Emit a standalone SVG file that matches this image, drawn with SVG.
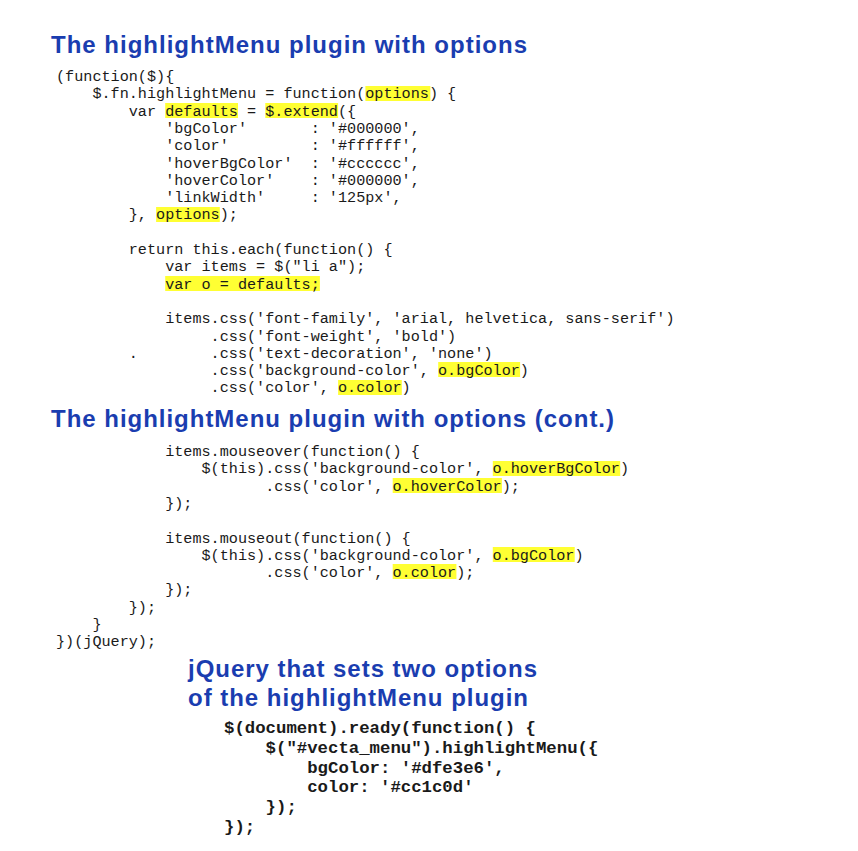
<svg xmlns="http://www.w3.org/2000/svg" width="858" height="851" viewBox="0 0 858 851">
<style>
.t{font-family:"Liberation Sans",Arial,sans-serif;font-weight:bold;font-size:24px;fill:#1a3db0}
.c{font-family:"Liberation Mono","Courier New",monospace;font-size:15.17px;fill:#1a1a1a;white-space:pre}
.b{font-family:"Liberation Mono","Courier New",monospace;font-size:17.33px;font-weight:bold;fill:#1a1a1a;white-space:pre}
.h{fill:#ffff33}
</style>
<rect width="858" height="851" fill="#fff"/>
<g id="titles">
<text class="t" x="51" y="53" textLength="476">The highlightMenu plugin with options</text>
<text class="t" x="51" y="427" textLength="563">The highlightMenu plugin with options (cont.)</text>
<text class="t" x="188" y="677" textLength="349">jQuery that sets two options</text>
<text class="t" x="188" y="706" textLength="340">of the highlightMenu plugin</text>
</g>
<g id="highlights">
<rect class="h" x="365.4" y="86" width="65" height="15"/>
<rect class="h" x="165.2" y="103" width="72.8" height="15"/>
<rect class="h" x="265.3" y="103" width="72.8" height="15"/>
<rect class="h" x="156.1" y="207" width="63.7" height="15"/>
<rect class="h" x="165.2" y="276" width="154.7" height="15"/>
<rect class="h" x="438.2" y="362" width="81.9" height="15"/>
<rect class="h" x="338.1" y="380" width="63.7" height="15"/>
<rect class="h" x="492.8" y="461" width="127.4" height="15"/>
<rect class="h" x="392.7" y="478" width="109.2" height="15"/>
<rect class="h" x="492.8" y="547" width="81.9" height="15"/>
<rect class="h" x="392.7" y="564" width="63.7" height="15"/>
</g>
<g id="code1" class="c">
<text class="c" x="56" y="81">(function($){</text>
<text class="c" x="56" y="98.3">    $.fn.highlightMenu = function(options) {</text>
<text class="c" x="56" y="115.6">        var defaults = $.extend({</text>
<text class="c" x="56" y="132.9">            'bgColor'       : '#000000',</text>
<text class="c" x="56" y="150.2">            'color'         : '#ffffff',</text>
<text class="c" x="56" y="167.5">            'hoverBgColor'  : '#cccccc',</text>
<text class="c" x="56" y="184.8">            'hoverColor'    : '#000000',</text>
<text class="c" x="56" y="202.1">            'linkWidth'     : '125px',</text>
<text class="c" x="56" y="219.4">        }, options);</text>
<text class="c" x="56" y="254">        return this.each(function() {</text>
<text class="c" x="56" y="271.3">            var items = $("li a");</text>
<text class="c" x="56" y="288.6">            var o = defaults;</text>
<text class="c" x="56" y="323.2">            items.css('font-family', 'arial, helvetica, sans-serif')</text>
<text class="c" x="56" y="340.5">                 .css('font-weight', 'bold')</text>
<text class="c" x="56" y="357.8">        .        .css('text-decoration', 'none')</text>
<text class="c" x="56" y="375.1">                 .css('background-color', o.bgColor)</text>
<text class="c" x="56" y="392.4">                 .css('color', o.color)</text>
</g>
<g id="code2" class="c">
<text class="c" x="56" y="456">            items.mouseover(function() {</text>
<text class="c" x="56" y="473.3">                $(this).css('background-color', o.hoverBgColor)</text>
<text class="c" x="56" y="490.6">                       .css('color', o.hoverColor);</text>
<text class="c" x="56" y="507.9">            });</text>
<text class="c" x="56" y="542.5">            items.mouseout(function() {</text>
<text class="c" x="56" y="559.8">                $(this).css('background-color', o.bgColor)</text>
<text class="c" x="56" y="577.1">                       .css('color', o.color);</text>
<text class="c" x="56" y="594.4">            });</text>
<text class="c" x="56" y="611.7">        });</text>
<text class="c" x="56" y="629">    }</text>
<text class="c" x="56" y="646.3">})(jQuery);</text>
</g>
<g id="code3" class="b">
<text class="b" x="224" y="733">$(document).ready(function() {</text>
<text class="b" x="224" y="752.8">    $("#vecta_menu").highlightMenu({</text>
<text class="b" x="224" y="772.6">        bgColor: '#dfe3e6',</text>
<text class="b" x="224" y="792.4">        color: '#cc1c0d'</text>
<text class="b" x="224" y="812.2">    });</text>
<text class="b" x="224" y="832">});</text>
</g>
</svg>
